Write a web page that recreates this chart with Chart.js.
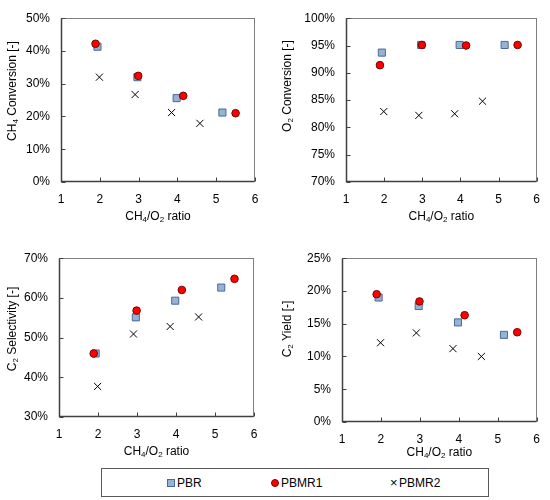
<!DOCTYPE html>
<html>
<head>
<meta charset="utf-8">
<script src="https://cdn.jsdelivr.net/npm/chart.js@4.4.1/dist/chart.umd.min.js"></script>
<style>
  body { margin: 0; background: #fff; font-family: "Liberation Sans", Arial, sans-serif; }
  #wrap { position: relative; width: 550px; height: 500px; }
  canvas { position: absolute; }
  #legend { position: absolute; left: 101px; top: 468px; width: 386px; height: 27px;
            border: 1px solid #595959; font-size: 12px; color: #000; }
  #legend span { position: absolute; }
  .lbl { top: 7px; }
  .sq { top: 10px; width: 6px; height: 6px; background: #95b3d7; border: 1px solid #4a6a96; }
  .ci { top: 10px; width: 6px; height: 6px; background: #ff0000; border: 1px solid #7a0000; border-radius: 50%; }
  .cr { top: 6px; font-size: 13px; }
</style>
</head>
<body>
<div id="wrap">
  <canvas id="c1" width="275" height="240" style="left:0;top:0"></canvas>
  <canvas id="c2" width="275" height="240" style="left:275px;top:0"></canvas>
  <canvas id="c3" width="275" height="222" style="left:0;top:240px"></canvas>
  <canvas id="c4" width="275" height="222" style="left:275px;top:240px"></canvas>
  <div id="legend">
    <span class="sq" style="left:65px"></span><span class="lbl" style="left:75px">PBR</span>
    <span class="ci" style="left:169px"></span><span class="lbl" style="left:179px">PBMR1</span>
    <span class="cr" style="left:288px">&times;</span><span class="lbl" style="left:297px">PBMR2</span>
  </div>
</div>
<script>
// CH4/O2 ratio of each run
const pbrX = [1.94, 2.97, 3.98, 5.16];
const pbmr1X = [1.89, 2.99, 4.15, 5.5];
const pbmr2X = [1.99, 2.91, 3.85, 4.58];

// values in %
const ch4ConvPBR = [41.3, 32.0, 25.6, 21.2];
const ch4ConvPBMR1 = [42.2, 32.4, 26.3, 21.0];
const ch4ConvPBMR2 = [32.0, 26.7, 21.2, 17.9];

const o2ConvPBR = [93.7, 95.1, 95.1, 95.1];
const o2ConvPBMR1 = [91.4, 95.1, 95.0, 95.1];
const o2ConvPBMR2 = [82.9, 82.2, 82.5, 84.8];

const c2SelPBR = [46.0, 55.1, 59.3, 62.6];
const c2SelPBMR1 = [46.0, 56.8, 62.0, 64.8];
const c2SelPBMR2 = [37.7, 50.9, 52.8, 55.2];

const c2YieldPBR = [19.0, 17.7, 15.2, 13.3];
const c2YieldPBMR1 = [19.5, 18.4, 16.3, 13.7];
const c2YieldPBMR2 = [12.1, 13.6, 11.2, 10.0];

const xTitle = 'CH_4/O_2 ratio';

const BASE = '12px "Liberation Sans", Arial, sans-serif';
const SUB = '8px "Liberation Sans", Arial, sans-serif';

// 'CH_4 text' -> odd pieces are subscripts
function drawRich(ctx, text, cx, cy, angle) {
  const parts = text.split(/_(\d)/);
  ctx.save();
  ctx.translate(cx, cy);
  ctx.rotate(angle);
  let w = 0;
  parts.forEach((p, i) => { ctx.font = i % 2 ? SUB : BASE; w += ctx.measureText(p).width; });
  let x = -w / 2;
  ctx.textBaseline = 'middle';
  ctx.textAlign = 'left';
  ctx.fillStyle = '#000';
  parts.forEach((p, i) => {
    ctx.font = i % 2 ? SUB : BASE;
    ctx.fillText(p, x, i % 2 ? 3 : 0);
    x += ctx.measureText(p).width;
  });
  ctx.restore();
}

const panelDecor = {
  id: 'panelDecor',
  afterDraw(chart, args, o) {
    const { ctx, chartArea: a, scales } = chart;
    const L = Math.round(a.left) + 0.5, R = Math.round(a.right) - 0.5;
    const T = Math.round(a.top) + 0.5, B = Math.round(a.bottom) - 0.5;
    ctx.save();
    ctx.strokeStyle = '#7f7f7f';
    ctx.lineWidth = 1;
    ctx.strokeRect(L, T, R - L, B - T);
    // inside tick marks
    ctx.strokeStyle = '#404040';
    ctx.beginPath();
    scales.x.ticks.forEach(t => {
      const px = Math.round(scales.x.getPixelForValue(t.value)) + 0.5;
      ctx.moveTo(px, B); ctx.lineTo(px, B - 4);
    });
    scales.y.ticks.forEach(t => {
      const py = Math.round(scales.y.getPixelForValue(t.value)) + 0.5;
      ctx.moveTo(L, py); ctx.lineTo(L + 4, py);
    });
    ctx.stroke();
    // axis lines
    ctx.lineWidth = 1.5;
    ctx.beginPath();
    ctx.moveTo(L, T); ctx.lineTo(L, B); ctx.lineTo(R, B);
    ctx.stroke();
    ctx.restore();
    drawRich(ctx, xTitle, (a.left + a.right) / 2, a.bottom + o.xOff, 0);
    drawRich(ctx, o.yTitle, 13, o.yMid, -Math.PI / 2);
  }
};

function makePanel(id, pbr, pbmr1, pbmr2, p) {
  new Chart(document.getElementById(id), {
    type: 'scatter',
    data: {
      datasets: [
        {
          label: 'PBR', order: 3,
          data: pbrX.map((x, i) => ({ x, y: pbr[i] })),
          pointStyle: 'rect', pointRadius: 5,
          backgroundColor: '#95b3d7', borderColor: '#4a6a96', borderWidth: 1
        },
        {
          label: 'PBMR1', order: 2,
          data: pbmr1X.map((x, i) => ({ x, y: pbmr1[i] })),
          pointStyle: 'circle', pointRadius: 3.8,
          backgroundColor: '#ff0000', borderColor: '#7a0000', borderWidth: 1
        },
        {
          label: 'PBMR2', order: 1,
          data: pbmr2X.map((x, i) => ({ x, y: pbmr2[i] })),
          pointStyle: 'crossRot', pointRadius: 5,
          borderColor: '#000', borderWidth: 1
        }
      ]
    },
    options: {
      responsive: false,
      animation: false,
      events: [],
      layout: { padding: { left: 0, top: p.padT, right: p.padR, bottom: 0 } },
      plugins: {
        legend: { display: false },
        tooltip: { enabled: false },
        panelDecor: { xOff: p.xOff, yTitle: p.yTitle, yMid: p.yMid }
      },
      scales: {
        x: {
          type: 'linear', min: 1, max: 6,
          grid: { display: false, drawTicks: false },
          border: { display: false },
          ticks: { stepSize: 1, padding: 10, color: '#000', font: { size: 12, family: '"Liberation Sans", Arial' } },
          afterFit: s => { s.height = p.xH; }
        },
        y: {
          min: p.min, max: p.max,
          grid: { display: false, drawTicks: false },
          border: { display: false },
          ticks: { stepSize: p.step, padding: 11, color: '#000',
                   font: { size: 12, family: '"Liberation Sans", Arial' },
                   callback: v => v + '%' },
          afterFit: s => { s.width = p.yW; }
        }
      }
    },
    plugins: [panelDecor]
  });
}

makePanel('c1', ch4ConvPBR, ch4ConvPBMR1, ch4ConvPBMR2,
  { min: 0, max: 50, step: 10, yW: 61, padR: 20, padT: 12, xH: 58, xOff: 35, yMid: 91, yTitle: 'CH_4 Conversion [-]' });
makePanel('c2', o2ConvPBR, o2ConvPBMR1, o2ConvPBMR2,
  { min: 70, max: 100, step: 5, yW: 71, padR: 7, padT: 12, xH: 58, xOff: 35, yMid: 86, yTitle: 'O_2 Conversion [-]' });
makePanel('c3', c2SelPBR, c2SelPBMR1, c2SelPBMR2,
  { min: 30, max: 70, step: 10, yW: 59, padR: 21, padT: 7, xH: 45, xOff: 35, yMid: 89, yTitle: 'C_2 Selectivity [-]' });
makePanel('c4', c2YieldPBR, c2YieldPBMR1, c2YieldPBMR2,
  { min: 0, max: 25, step: 5, yW: 67, padR: 8, padT: 7, xH: 40, xOff: 31, yMid: 89, yTitle: 'C_2 Yield [-]' });
</script>
</body>
</html>
